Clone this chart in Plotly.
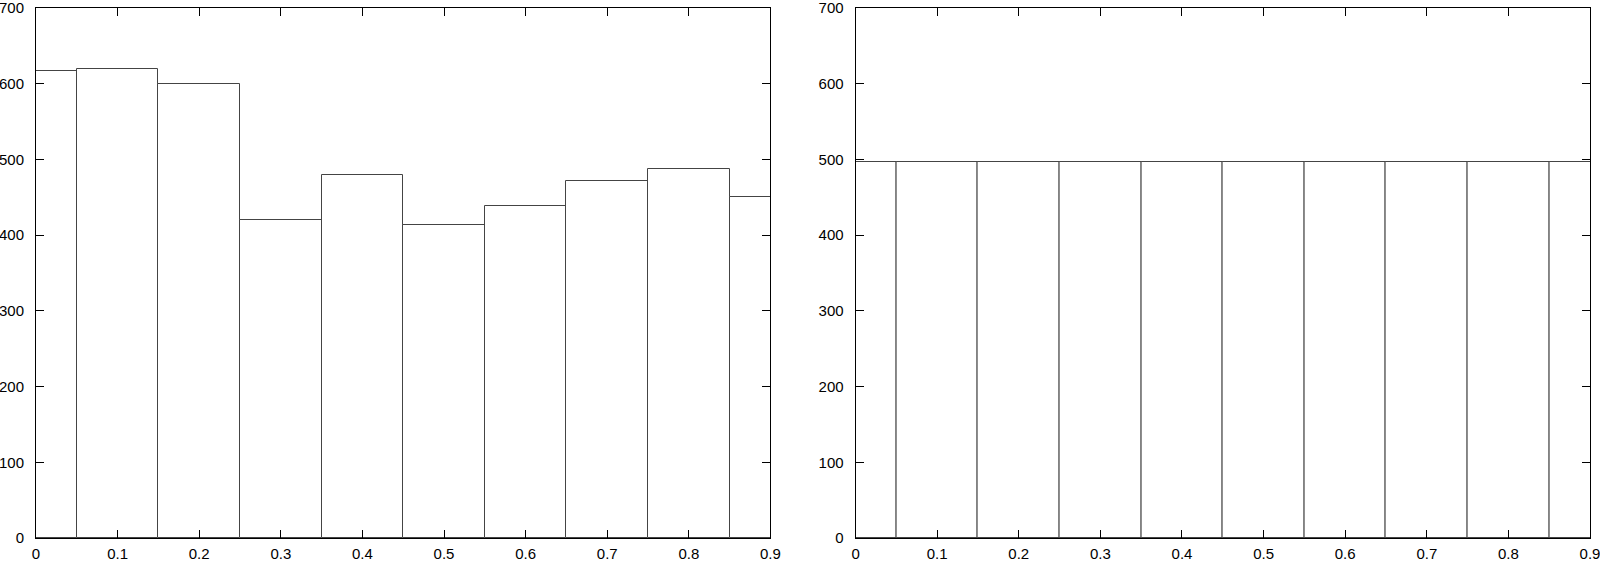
import plotly.graph_objects as go
from plotly.subplots import make_subplots

bin_centers = [0.0, 0.1, 0.2, 0.3, 0.4, 0.5, 0.6, 0.7, 0.8, 0.9]
left_counts = [617, 620, 600, 420, 480, 414, 439, 472, 487, 450]
right_counts = [497, 497, 497, 497, 497, 497, 497, 497, 497, 497]
x_ticks = [0, 0.1, 0.2, 0.3, 0.4, 0.5, 0.6, 0.7, 0.8, 0.9]
x_ticklabels = ["0", "0.1", "0.2", "0.3", "0.4", "0.5", "0.6", "0.7", "0.8", "0.9"]
y_ticks = [0, 100, 200, 300, 400, 500, 600, 700]

fig = make_subplots(rows=1, cols=2, horizontal_spacing=0.0548)

for col, counts in ((1, left_counts), (2, right_counts)):
    fig.add_trace(go.Bar(x=bin_centers, y=counts, width=0.1,
                         marker=dict(color="white", line=dict(color="#444444", width=1)),
                         showlegend=False), row=1, col=col)
    fig.update_xaxes(range=[0, 0.9], tickvals=x_ticks, ticktext=x_ticklabels,
                     ticks="inside", ticklen=8, tickcolor="black", tickwidth=1,
                     showline=True, linecolor="black", linewidth=1, mirror="ticks",
                     showgrid=False, zeroline=False, ticklabelstandoff=2,
                     automargin=False, ticklabeloverflow="allow",
                     tickfont=dict(family="Liberation Sans", size=15, color="black"),
                     row=1, col=col)
    fig.update_yaxes(range=[0, 700], tickvals=y_ticks,
                     ticks="inside", ticklen=8, tickcolor="black", tickwidth=1,
                     showline=True, linecolor="black", linewidth=1, mirror="ticks",
                     showgrid=False, zeroline=False, ticklabelstandoff=8,
                     automargin=False, ticklabeloverflow="allow",
                     tickfont=dict(family="Liberation Sans", size=15, color="black"),
                     row=1, col=col)

fig.update_layout(width=1600, height=561, paper_bgcolor="white", plot_bgcolor="white",
                  margin=dict(l=36, r=10, t=8, b=23, autoexpand=False), bargap=0)

fig.write_html("out.html", config={"displayModeBar": False},
               post_script="document.body.style.margin='0';document.body.style.overflow='hidden';")
